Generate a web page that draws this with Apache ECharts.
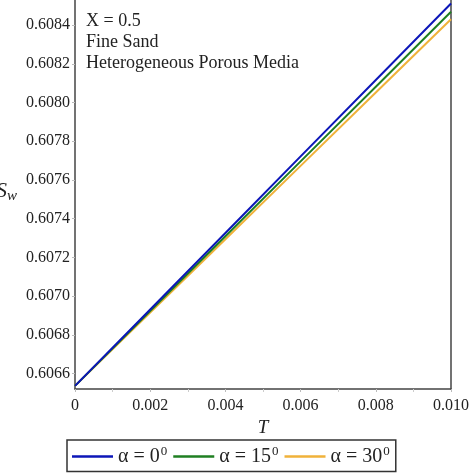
<!DOCTYPE html>
<html><head><meta charset="utf-8">
<script src="https://cdn.jsdelivr.net/npm/echarts@6/dist/echarts.min.js"></script>
<style>html,body{margin:0;padding:0;background:#fff}#c{width:474px;height:474px}</style>
</head><body><div id="c"></div>
<script>
var T = [0, 0.002, 0.004, 0.006, 0.008, 0.010];
var sw0 = [0.606536, 0.606931, 0.607326, 0.607722, 0.608117, 0.608512];
var sw15 = [0.606536, 0.606923, 0.607309, 0.607696, 0.608082, 0.608469];
var sw30 = [0.606536, 0.606915, 0.607294, 0.607673, 0.608052, 0.608431];
var seriesNames = ['α = 0', 'α = 15', 'α = 30'];
var seriesSup = ['0', '0', '0'];
var seriesColors = ['#0c16b8', '#1f7f22', '#f0b23a'];
var annotations = ['X = 0.5', 'Fine Sand', 'Heterogeneous Porous Media'];

var FONT = 'Liberation Serif';
function pairs(ys){ return T.map(function(t,i){ return [t, ys[i]]; }); }
var allY = [sw0, sw15, sw30];

var chart = echarts.init(document.getElementById('c'));
chart.setOption({
  animation: false,
  backgroundColor: '#fff',
  textStyle: {fontFamily: FONT},
  grid: {left: 75, right: 23, top: 0, bottom: 85, containLabel: false, outerBoundsMode: 'none'},
  xAxis: {
    type: 'value', min: 0, max: 0.010, interval: 0.002,
    axisLine: {show: true, lineStyle: {color: '#444', width: 1.5}},
    axisTick: {show: true, inside: false, length: 3, lineStyle: {color: '#bbb'}},
    minorTick: {show: true, splitNumber: 2, length: 3, lineStyle: {color: '#ccc'}},
    splitLine: {show: false},
    axisLabel: {margin: 9, fontFamily: FONT, fontSize: 16, color: '#222',
      formatter: function(v){ return v === 0 ? '0' : v.toFixed(3); }},
    name: 'T', nameLocation: 'middle', nameGap: 24,
    nameTextStyle: {fontFamily: FONT, fontStyle: 'italic', fontSize: 19, color: '#222'}
  },
  yAxis: [{
    type: 'value', min: 0.60652, max: 0.60853, splitNumber: 10,
    axisLine: {show: true, lineStyle: {color: '#444', width: 1.5}},
    axisTick: {show: true, length: 3, lineStyle: {color: '#bbb'}},
    splitLine: {show: false},
    axisLabel: {margin: 5, fontFamily: FONT, fontSize: 16, color: '#222',
      showMinLabel: false, showMaxLabel: false,
      formatter: function(v){ return v.toFixed(4); }}
  }, {
    type: 'value', min: 0.60652, max: 0.60853, position: 'right',
    axisLine: {show: true, lineStyle: {color: '#444', width: 1.5}},
    axisTick: {show: false}, axisLabel: {show: false}, splitLine: {show: false}
  }],
  legend: {
    left: 67, top: 440, orient: 'horizontal',
    borderColor: '#333', borderWidth: 1.5, borderRadius: 0,
    padding: [5, 6, 5, 5], itemGap: 6, itemWidth: 41, itemHeight: 2.5,
    icon: 'rect',
    data: seriesNames,
    formatter: function(name){
      var i = seriesNames.indexOf(name);
      return '{a|' + name + '}{s|' + seriesSup[i] + '}';
    },
    textStyle: {
      fontFamily: FONT,
      rich: {
        a: {fontFamily: FONT, fontSize: 20, color: '#222', lineHeight: 22},
        s: {fontFamily: FONT, fontSize: 13, color: '#222', padding: [0, 0, 10, 1]}
      }
    }
  },
  graphic: [
    {type: 'text', left: 86, top: 12, style: {text: annotations[0], fontFamily: FONT, fontSize: 18, fill: '#222'}},
    {type: 'text', left: 86, top: 33, style: {text: annotations[1], fontFamily: FONT, fontSize: 18, fill: '#222'}},
    {type: 'text', left: 86, top: 54, style: {text: annotations[2], fontFamily: FONT, fontSize: 18, fill: '#222'}},
    {type: 'text', left: -4, top: 180, style: {
      text: '{S|S}{w|w}',
      rich: {
        S: {fontFamily: FONT, fontStyle: 'italic', fontSize: 22, fill: '#222'},
        w: {fontFamily: FONT, fontStyle: 'italic', fontSize: 15, fill: '#222', padding: [10, 0, 0, 0]}
      }
    }}
  ],
  series: allY.map(function(ys, i){
    return {
      name: seriesNames[i], type: 'line', data: pairs(ys), showSymbol: false, symbol: 'none',
      lineStyle: {color: seriesColors[i], width: 2}, itemStyle: {color: seriesColors[i]}
    };
  }).reverse()
});
</script></body></html>
